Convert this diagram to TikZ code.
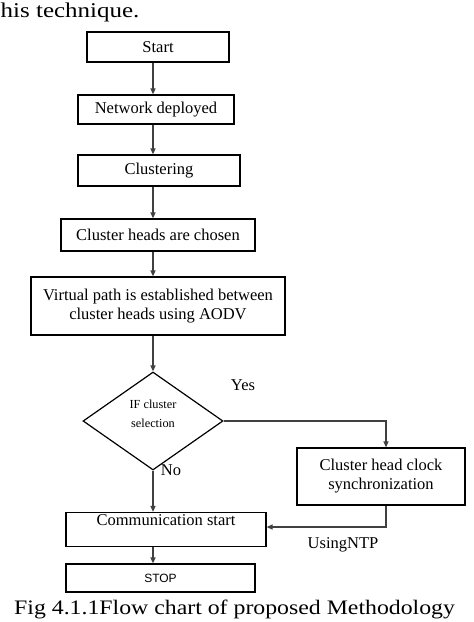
\documentclass[tikz,border=0pt]{standalone}
\usepackage{fontspec}
\setmainfont{Liberation Serif}
\newfontfamily\capfont[FakeStretch=1.19]{Liberation Serif}
\newfontfamily\capfontb[FakeStretch=1.155]{Liberation Serif}
\newfontfamily\stopfont{Liberation Sans}
\usetikzlibrary{shapes.geometric,arrows.meta}
\begin{document}
\begin{tikzpicture}[x=1pt,y=-1pt,
  box/.style={draw=black,line width=1.2pt,rectangle,inner sep=0pt,font=\fontsize{16.5}{19}\selectfont,align=center},
  arr/.style={draw=black!75,line width=1.2pt,-{Triangle[length=6pt,width=5pt]}},
  lbl/.style={font=\fontsize{16.5}{19}\selectfont,inner sep=0pt}]
\useasboundingbox (0,0) rectangle (474,622);
\node[anchor=base west,font=\capfont\fontsize{21}{24}\selectfont,inner sep=0pt] (top) at (0.5,17) {his technique.};
\coordinate (ax) at (153,0);
\coordinate (bx) at (386,0);
\coordinate (cy) at (0,527);
\node[box,minimum width=142pt,minimum height=30pt] (start) at (158,47) {Start};
\node[box,minimum width=156pt,minimum height=29pt] (net) at (156,109.5) {Network deployed};
\node[box,minimum width=162pt,minimum height=31pt] (clus) at (159,170.5) {Clustering};
\node[box,minimum width=194pt,minimum height=32pt] (heads) at (158,235) {Cluster heads are chosen};
\node[box,minimum width=254pt,minimum height=58pt] (virt) at (158,306) {Virtual path is established between\\cluster heads using AODV};
\node[draw=black,line width=1.2pt,diamond,minimum width=140pt,minimum height=98pt,inner sep=0pt] (dec) at (153,421) {};
\node[align=center,font=\fontsize{12.3}{19}\selectfont,inner sep=0pt] (dect) at (153,414) {IF cluster\\selection};
\node[box,minimum width=168pt,minimum height=57pt] (sync) at (381,476.5) {Cluster head clock\\synchronization};
\node[box,minimum width=200pt,minimum height=34pt] (comm) at (166,529.5) {};
\node[lbl,anchor=north] (commt) at ([yshift=-2pt]comm.north) {Communication start};
\node[box,minimum width=189pt,minimum height=28pt,font=\stopfont\fontsize{12}{14}\selectfont] (stop) at (160.5,578) {STOP};
\node[lbl] (yes) at (243,385) {Yes};
\node[lbl] (no) at (171,470) {No};
\node[lbl] (ntp) at (343,545) {UsingNTP};
\node[anchor=base west,font=\capfontb\fontsize{20.6}{24}\selectfont,inner sep=0pt] (cap) at (14,614) {Fig 4.1.1Flow chart of proposed Methodology};
\draw[arr] (start.south -| ax) -- (net.north -| ax);
\draw[arr] (net.south -| ax) -- (clus.north -| ax);
\draw[arr] (clus.south -| ax) -- (heads.north -| ax);
\draw[arr] (heads.south -| ax) -- (virt.north -| ax);
\draw[arr] (virt.south -| ax) -- (dec.north);
\draw[arr] (dec.east) -- (dec.east -| bx) -- (sync.north -| bx);
\draw[arr] (sync.south -| bx) -- (bx |- cy) -- (comm.east |- cy);
\draw[arr] (dec.south) -- (comm.north -| dec.south);
\draw[arr] (comm.south -| ax) -- (stop.north -| ax);
\end{tikzpicture}
\end{document}
